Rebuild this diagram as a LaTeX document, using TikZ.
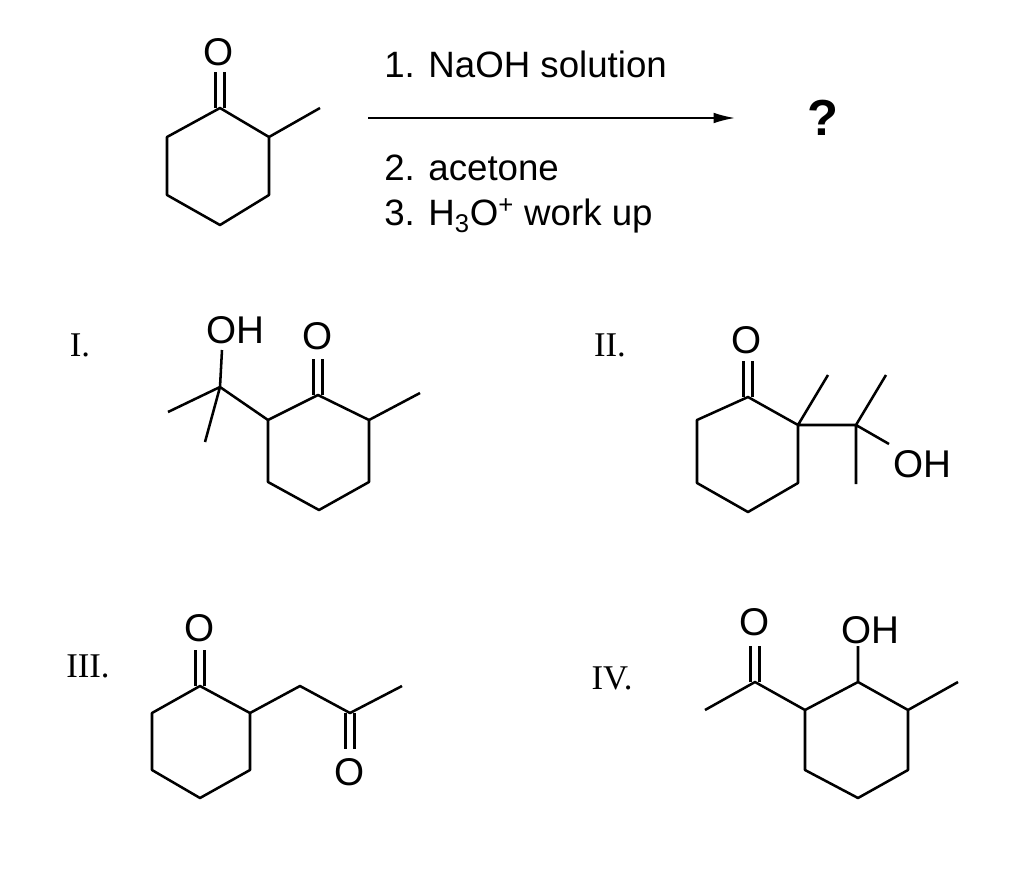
\documentclass[tikz,border=0pt]{standalone}
\usepackage{fontspec}
\setmainfont{Liberation Sans}
\newfontfamily\rmnum{Liberation Serif}
\usetikzlibrary{arrows.meta}
\begin{document}
\begin{tikzpicture}[x=0.75pt,y=-0.75pt,line width=1.9pt,line join=round,
  atom/.style={font=\fontsize{29}{32}\selectfont,inner sep=0pt},
  txt/.style={font=\fontsize{27.5}{30}\selectfont,anchor=west,inner sep=0pt},
  num/.style={font=\rmnum\fontsize{26}{28}\selectfont,inner sep=0pt},
  dbu/.style={insert path={([xshift=-3.2pt]#1) -- ([xshift=-3.2pt,yshift=27pt]#1) ([xshift=3.2pt]#1) -- ([xshift=3.2pt,yshift=27pt]#1)}},
  dbd/.style={insert path={([xshift=-3.2pt]#1) -- ([xshift=-3.2pt,yshift=-27pt]#1) ([xshift=3.2pt]#1) -- ([xshift=3.2pt,yshift=-27pt]#1)}}]
\useasboundingbox (0,0) rectangle (1024,868);
% starting material
\coordinate (a1) at (220,108); \coordinate (a2) at (167,137); \coordinate (a3) at (167,195);
\coordinate (a4) at (220,225); \coordinate (a5) at (269,195); \coordinate (a6) at (269,137);
\coordinate (am) at (320,108);
\node[atom] (aO) at (219,52) {O};
\draw (a1)--(a2)--(a3)--(a4)--(a5)--(a6)--cycle (a6)--(am);
\draw[dbu=a1];
% arrow and reagents
\coordinate (r1) at (368,118); \coordinate (r2) at (735,118);
\draw[-{Latex[length=16,width=8]},line width=1.4pt] (r1)--(r2);
\node[txt] (t1) at (383,64) {1. NaOH solution};
\node[txt] (t2) at (383,168) {2. acetone};
\node[txt] (t3) at (383,216) {3. H\textsubscript{3}O\textsuperscript{+} work up};
\node[font=\bfseries\fontsize{38}{40}\selectfont,inner sep=0pt] (q) at (823,118) {?};
% I
\node[num] (nI) at (80,345) {I.};
\coordinate (b1) at (318,395); \coordinate (b2) at (268,420); \coordinate (b3) at (268,482);
\coordinate (b4) at (319,510); \coordinate (b5) at (369,482); \coordinate (b6) at (369,420);
\coordinate (bm) at (420,393); \coordinate (bc) at (220,387); \coordinate (bm1) at (168,412);
\coordinate (bm2) at (205,442); \coordinate (bo) at (222,350);
\node[atom] (bOH) at (235,330) {OH};
\node[atom] (bO) at (318,336) {O};
\draw (b1)--(b2)--(b3)--(b4)--(b5)--(b6)--cycle (b6)--(bm) (b2)--(bc)--(bm1) (bc)--(bm2) (bc)--(bo);
\draw[dbu=b1];
% II
\node[num] (nII) at (610,345) {II.};
\coordinate (c1) at (748,397); \coordinate (c2) at (697,420); \coordinate (c3) at (697,483);
\coordinate (c4) at (748,512); \coordinate (c5) at (798,483); \coordinate (c6) at (798,425);
\coordinate (cm) at (828,375); \coordinate (cq) at (856,425); \coordinate (cq1) at (886,375);
\coordinate (cq2) at (856,484); \coordinate (co) at (889,444);
\node[atom] (cOH) at (922,464) {OH};
\node[atom] (cO) at (747,340) {O};
\draw (c1)--(c2)--(c3)--(c4)--(c5)--(c6)--cycle (c6)--(cm) (c6)--(cq)--(cq1) (cq)--(cq2) (cq)--(co);
\draw[dbu=c1];
% III
\node[num] (nIII) at (88,666) {III.};
\coordinate (d1) at (200,686); \coordinate (d2) at (152,713); \coordinate (d3) at (152,770);
\coordinate (d4) at (200,798); \coordinate (d5) at (250,770); \coordinate (d6) at (250,713);
\coordinate (dh) at (300,686); \coordinate (dc) at (350,713); \coordinate (dm) at (402,686);
\node[atom] (dO) at (200,628) {O};
\node[atom] (dO2) at (350,772) {O};
\draw (d1)--(d2)--(d3)--(d4)--(d5)--(d6)--cycle (d6)--(dh)--(dc)--(dm);
\draw[dbu=d1];
\draw[dbd=dc];
% IV
\node[num] (nIV) at (612,678) {IV.};
\coordinate (e0) at (755,682); \coordinate (em0) at (705,710);
\coordinate (e1) at (858,682); \coordinate (e2) at (805,710); \coordinate (e3) at (805,770);
\coordinate (e4) at (858,798); \coordinate (e5) at (908,770); \coordinate (e6) at (908,710);
\coordinate (em) at (958,682); \coordinate (eo) at (858,646);
\node[atom] (eO) at (755,622) {O};
\node[atom] (eOH) at (870,630) {OH};
\draw (e1)--(e2)--(e3)--(e4)--(e5)--(e6)--cycle (e6)--(em) (e2)--(e0)--(em0) (e1)--(eo);
\draw[dbu=e0];
\end{tikzpicture}
\end{document}
